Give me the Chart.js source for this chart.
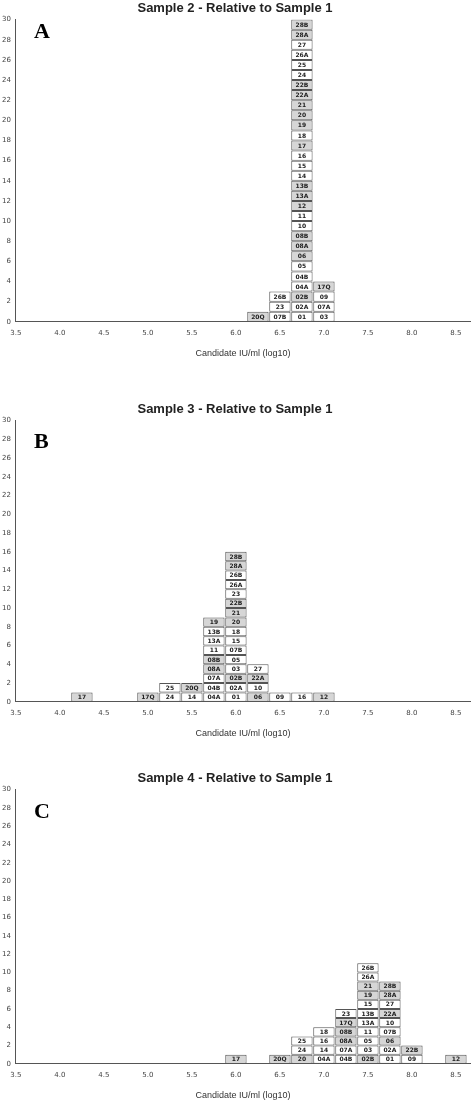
<!DOCTYPE html>
<html>
<head>
<meta charset="utf-8">
<script src="https://cdn.jsdelivr.net/npm/chart.js@4"></script>
<style>
  body { margin: 0; background: #fff; width: 474px; height: 1105px; position: relative; overflow: hidden; }
  .panel { position: absolute; left: 0; width: 474px; }
  .letter { position: absolute; font: bold 22px "Liberation Serif", serif; }
</style>
</head>
<body>
<div class="panel" style="top:-3px;height:366px"><canvas id="chartA"></canvas></div>
<div class="panel" style="top:398px;height:345px"><canvas id="chartB"></canvas></div>
<div class="panel" style="top:767px;height:338px"><canvas id="chartC"></canvas></div>
<div class="letter" style="left:34px;top:18px">A</div>
<div class="letter" style="left:34px;top:428px">B</div>
<div class="letter" style="left:34px;top:798px">C</div>
<script>
// bin centres (log10 IU/ml) and the lab codes stacked in each bin, bottom to top
const binsA = [6.25, 6.5, 6.75, 7.0];
const stacksA = [
  ['20Q'],
  ['07B', '23', '26B'],
  ['01', '02A', '02B', '04A', '04B', '05', '06', '08A', '08B', '10', '11', '12', '13A', '13B', '14', '15', '16', '17', '18', '19', '20', '21', '22A', '22B', '24', '25', '26A', '27', '28A', '28B'],
  ['03', '07A', '09', '17Q']
];
const binsB = [4.25, 5.0, 5.25, 5.5, 5.75, 6.0, 6.25, 6.5, 6.75, 7.0];
const stacksB = [
  ['17'],
  ['17Q'],
  ['24', '25'],
  ['14', '20Q'],
  ['04A', '04B', '07A', '08A', '08B', '11', '13A', '13B', '19'],
  ['01', '02A', '02B', '03', '05', '07B', '15', '18', '20', '21', '22B', '23', '26A', '26B', '28A', '28B'],
  ['06', '10', '22A', '27'],
  ['09'],
  ['16'],
  ['12']
];
const binsC = [6.0, 6.5, 6.75, 7.0, 7.25, 7.5, 7.75, 8.0, 8.5];
const stacksC = [
  ['17'],
  ['20Q'],
  ['20', '24', '25'],
  ['04A', '14', '16', '18'],
  ['04B', '07A', '08A', '08B', '17Q', '23'],
  ['02B', '03', '05', '11', '13A', '13B', '15', '19', '21', '26A', '26B'],
  ['01', '02A', '06', '07B', '10', '22A', '27', '28A', '28B'],
  ['09', '22B'],
  ['12']
];
const titles = ['Sample 2 - Relative to Sample 1', 'Sample 3 - Relative to Sample 1', 'Sample 4 - Relative to Sample 1'];
const greyCodes = ['28B', '28A', '22B', '22A', '21', '20', '19', '17', '12', '08B', '08A', '06', '02B', '20Q', '17Q'];
const greyExtraA = ['13A', '13B'];
const xTicks = [3.5, 4.0, 4.5, 5.0, 5.5, 6.0, 6.5, 7.0, 7.5, 8.0, 8.5];

const boxLabels = {
  id: 'boxLabels',
  afterDatasetsDraw(chart) {
    const ctx = chart.ctx;
    const meta = chart.getDatasetMeta(0);
    ctx.save();
    ctx.font = 'bold 6px "DejaVu Sans", sans-serif';
    ctx.fillStyle = '#222';
    ctx.textAlign = 'center';
    ctx.textBaseline = 'middle';
    meta.data.forEach((bar, i) => {
      const p = chart.data.datasets[0].data[i];
      ctx.fillText(p.code, bar.x, (bar.y + bar.base) / 2 + 0.5);
    });
    ctx.restore();
  }
};

function makeChart(id, bins, stacks, title, extraGrey) {
  const grey = greyCodes.concat(extraGrey);
  const points = [];
  bins.forEach((x, b) => {
    stacks[b].forEach((code, k) => points.push({ x: x, y: [k, k + 1], code: code }));
  });
  new Chart(document.getElementById(id), {
    type: 'bar',
    data: {
      datasets: [{
        data: points,
        backgroundColor: points.map(p => grey.includes(p.code) ? '#d6d6d6' : '#ffffff'),
        borderColor: '#555',
        borderWidth: 1,
        borderSkipped: false,
        barPercentage: 1,
        categoryPercentage: 0.97
      }]
    },
    options: {
      responsive: true,
      maintainAspectRatio: false,
      animation: false,
      layout: { padding: { left: 0, right: 4, top: 0, bottom: 0 } },
      plugins: {
        legend: { display: false },
        tooltip: { enabled: false },
        title: {
          display: true, text: title, color: '#222',
          font: { family: '"Liberation Sans", Arial, sans-serif', size: 13, weight: 'bold' },
          padding: { top: 4, bottom: 3 }
        }
      },
      scales: {
        x: {
          type: 'linear', min: 3.5, max: 8.66, offset: false,
          afterBuildTicks: s => { s.ticks = xTicks.map(v => ({ value: v })); },
          grid: { display: false, drawTicks: false },
          border: { color: '#555' },
          ticks: { color: '#444', font: { size: 7, family: '"DejaVu Sans", sans-serif' }, padding: 7, callback: v => v.toFixed(1), maxRotation: 0 },
          title: { display: true, text: 'Candidate IU/ml (log10)', color: '#333', font: { size: 9, family: '"Liberation Sans", Arial, sans-serif' }, padding: { top: 4 } }
        },
        y: {
          min: 0, max: 30,
          grid: { display: false, drawOnChartArea: false, tickLength: 3 },
          border: { color: '#555' },
          ticks: { stepSize: 2, color: '#444', font: { size: 7, family: '"DejaVu Sans", sans-serif' }, padding: 2 }
        }
      }
    },
    plugins: [boxLabels]
  });
}

makeChart('chartA', binsA, stacksA, titles[0], greyExtraA);
makeChart('chartB', binsB, stacksB, titles[1], []);
makeChart('chartC', binsC, stacksC, titles[2], []);
</script>
</body>
</html>
